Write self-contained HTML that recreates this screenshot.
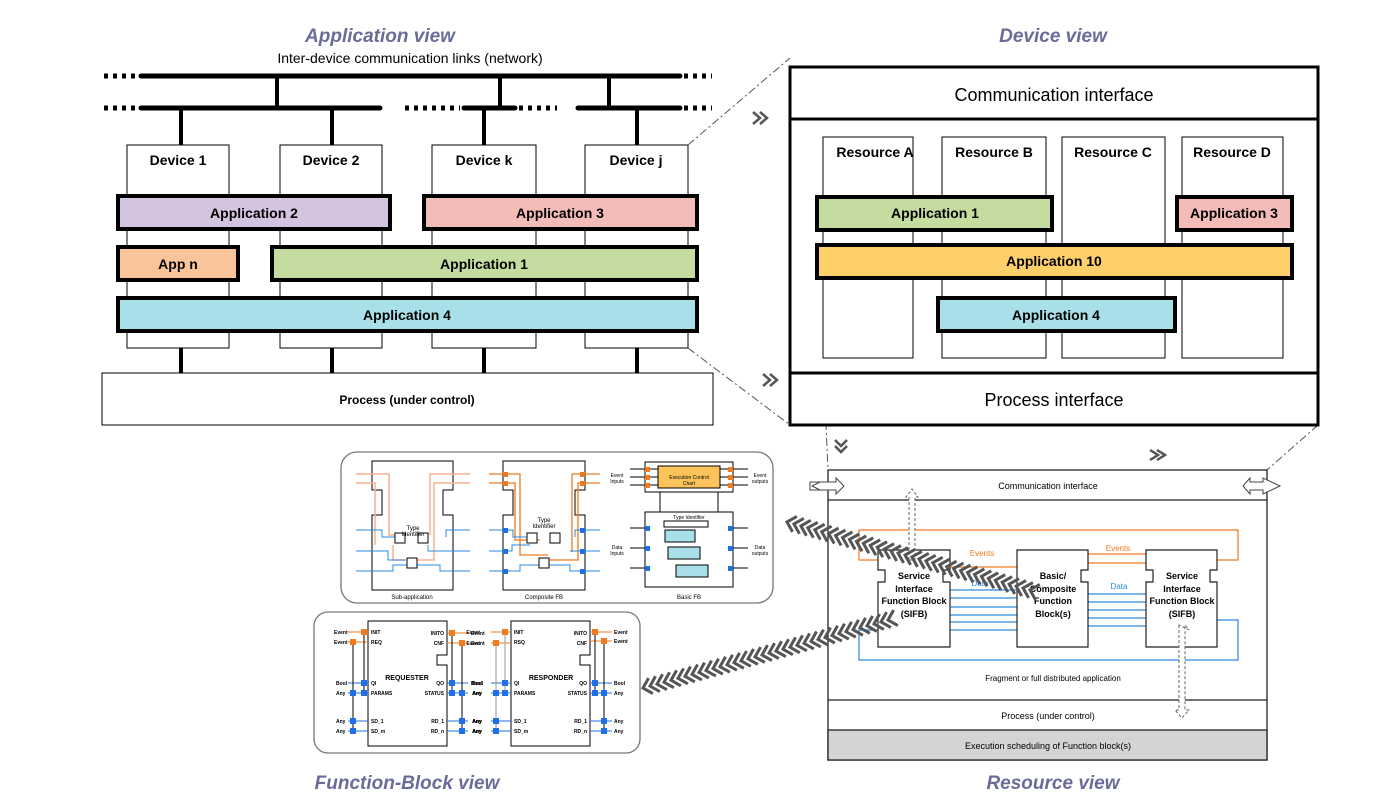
<!DOCTYPE html>
<html><head><meta charset="utf-8">
<style>
html,body{margin:0;padding:0;background:#fff;}
svg{display:block;font-family:"Liberation Sans",sans-serif;}
.t{font-weight:bold;font-style:italic;fill:#6b6b9b;font-size:19px;text-anchor:middle}
.b{font-weight:bold;font-size:14px;text-anchor:middle}
.s{font-size:5px;text-anchor:middle}
</style></head><body>
<svg id="sv" width="1378" height="807" viewBox="0 0 1378 807" xmlns="http://www.w3.org/2000/svg">
<rect width="1378" height="807" fill="#fff"/>
<!-- titles -->
<text class="t" x="380" y="42">Application view</text>
<text class="t" x="1053" y="42">Device view</text>
<text class="t" x="407" y="789">Function-Block view</text>
<text class="t" x="1053" y="789">Resource view</text>
<text x="410" y="63" font-size="14" text-anchor="middle">Inter-device communication links (network)</text>

<!-- network -->
<g stroke="#000" stroke-width="5" stroke-linecap="round">
<line x1="141" y1="76" x2="680" y2="76"/>
<line x1="141" y1="108" x2="380" y2="108"/>
<line x1="464" y1="108" x2="515" y2="108"/>
<line x1="578" y1="108" x2="680" y2="108"/>
</g>
<g stroke="#000" stroke-width="5" stroke-dasharray="4 5">
<line x1="104" y1="76" x2="136" y2="76"/><line x1="684" y1="76" x2="712" y2="76"/>
<line x1="104" y1="108" x2="136" y2="108"/><line x1="405" y1="108" x2="460" y2="108"/>
<line x1="519" y1="108" x2="557" y2="108"/><line x1="684" y1="108" x2="712" y2="108"/>
</g>
<g stroke="#000" stroke-width="4">
<line x1="277" y1="76" x2="277" y2="108"/><line x1="500" y1="76" x2="500" y2="108"/><line x1="609" y1="76" x2="609" y2="108"/>
<line x1="181" y1="108" x2="181" y2="145"/><line x1="332" y1="108" x2="332" y2="145"/><line x1="484" y1="108" x2="484" y2="145"/><line x1="637" y1="108" x2="637" y2="145"/>
<line x1="181" y1="348" x2="181" y2="373"/><line x1="332" y1="348" x2="332" y2="373"/><line x1="484" y1="348" x2="484" y2="373"/><line x1="637" y1="348" x2="637" y2="373"/>
</g>
<g fill="#fff" stroke="#000" stroke-width="1">
<rect x="127" y="145" width="102" height="203"/><rect x="280" y="145" width="102" height="203"/>
<rect x="432" y="145" width="104" height="203"/><rect x="585" y="145" width="103" height="203"/>
<rect x="102" y="373" width="611" height="52"/>
</g>
<text class="b" x="178" y="165">Device 1</text><text class="b" x="331" y="165">Device 2</text>
<text class="b" x="484" y="165">Device k</text><text class="b" x="636" y="165">Device j</text>
<text x="407" y="404" font-size="12" font-weight="bold" text-anchor="middle">Process (under control)</text>
<g stroke="#000" stroke-width="4">
<rect x="118" y="196" width="272" height="33" fill="#d5c4e0"/>
<rect x="424" y="196" width="273" height="33" fill="#f4bcb8"/>
<rect x="118" y="247" width="120" height="33" fill="#f9c49a"/>
<rect x="272" y="247" width="425" height="33" fill="#c5dca0"/>
<rect x="118" y="298" width="579" height="33" fill="#a8dfe9"/>
</g>
<text class="b" x="254" y="218">Application 2</text><text class="b" x="560" y="218">Application 3</text>
<text class="b" x="178" y="269">App n</text><text class="b" x="484" y="269">Application 1</text>
<text class="b" x="407" y="320">Application 4</text>

<!-- dash-dot connectors -->
<g stroke="#555" stroke-width="1" stroke-dasharray="8 3 2 3" fill="none">
<line x1="688" y1="145" x2="790" y2="58"/>
<line x1="688" y1="348" x2="790" y2="425"/>
<line x1="823" y1="358" x2="828" y2="470"/>
<line x1="1318" y1="425" x2="1267" y2="470"/>
</g>
<g fill="none" stroke="#555" stroke-width="2.5">
<path d="M753 110 l7 6 -7 6 M760 110 l7 6 -7 6" transform="translate(0,2)"/>
<path d="M763 374 l7 6 -7 6 M770 374 l7 6 -7 6"/>
<path d="M835 440 l6 6 6 -6 M835 446 l6 6 6 -6"/>
<path d="M1150 450 l8 5 -8 5 M1157 450 l8 5 -8 5"/>
</g>

<!-- device view -->
<g fill="#fff" stroke="#000">
<rect x="790" y="67" width="528" height="358" stroke-width="3"/>
<line x1="790" y1="119" x2="1318" y2="119" stroke-width="3"/>
<line x1="790" y1="373" x2="1318" y2="373" stroke-width="3"/>
<rect x="823" y="137" width="90" height="221"/><rect x="942" y="137" width="104" height="221"/>
<rect x="1062" y="137" width="103" height="221"/><rect x="1182" y="137" width="101" height="221"/>
</g>
<text x="1054" y="101" font-size="18" text-anchor="middle">Communication interface</text>
<text x="1054" y="406" font-size="18" text-anchor="middle">Process interface</text>
<text class="b" x="875" y="157">Resource A</text><text class="b" x="994" y="157">Resource B</text>
<text class="b" x="1113" y="157">Resource C</text><text class="b" x="1232" y="157">Resource D</text>
<g stroke="#000" stroke-width="4">
<rect x="817" y="197" width="235" height="33" fill="#c5dca0"/>
<rect x="1177" y="197" width="115" height="33" fill="#f4bcb8"/>
<rect x="817" y="245" width="475" height="33" fill="#fdd06a"/>
<rect x="938" y="298" width="237" height="33" fill="#a8dfe9"/>
</g>
<text class="b" x="935" y="218">Application 1</text><text class="b" x="1234" y="218">Application 3</text>
<text class="b" x="1054" y="266">Application 10</text><text class="b" x="1056" y="320">Application 4</text>

<!-- resource view -->
<g fill="#fff" stroke="#222" stroke-width="1.3">
<rect x="828" y="470" width="439" height="290"/>
<line x1="828" y1="500" x2="1267" y2="500"/>
<line x1="828" y1="700" x2="1267" y2="700"/>
<rect x="828" y="730" width="439" height="30" fill="#d4d4d4"/>
</g>
<text x="1048" y="489" font-size="9" text-anchor="middle">Communication interface</text>
<text x="1053" y="681" font-size="8" text-anchor="middle">Fragment or full distributed application</text>
<text x="1048" y="719" font-size="9" text-anchor="middle">Process (under control)</text>
<text x="1048" y="749" font-size="9" text-anchor="middle">Execution scheduling of Function block(s)</text>
<g fill="none" stroke="#f07a1e" stroke-width="1.2">
<path d="M878 560 H859 V530 H1238 V560 H1217"/>
<line x1="950" y1="567" x2="1017" y2="567"/>
<line x1="1088" y1="554" x2="1146" y2="554"/><line x1="1088" y1="563" x2="1146" y2="563"/>
</g>
<text x="982" y="556" font-size="8" fill="#f07a1e" text-anchor="middle">Events</text>
<text x="1118" y="551" font-size="8" fill="#f07a1e" text-anchor="middle">Events</text>
<g fill="none" stroke="#2a8ae0" stroke-width="1.2">
<line x1="950" y1="590" x2="1017" y2="590"/><line x1="950" y1="598" x2="1017" y2="598"/>
<line x1="950" y1="607" x2="1017" y2="607"/><line x1="950" y1="615" x2="1017" y2="615"/>
<line x1="950" y1="622" x2="1017" y2="622"/><line x1="950" y1="630" x2="1017" y2="630"/>
<line x1="1088" y1="594" x2="1146" y2="594"/><line x1="1088" y1="602" x2="1146" y2="602"/>
<line x1="1088" y1="610" x2="1146" y2="610"/><line x1="1088" y1="618" x2="1146" y2="618"/>
<line x1="1088" y1="626" x2="1146" y2="626"/>
<path d="M878 630 H859 V660 H1238 V620 H1217"/>
</g>
<text x="980" y="586" font-size="8" fill="#2a8ae0" text-anchor="middle">Data</text>
<text x="1119" y="589" font-size="8" fill="#2a8ae0" text-anchor="middle">Data</text>
<g fill="#fff" stroke="#222" stroke-width="1.2">
<path d="M878 550 H950 V570 H943 V582 H950 V647 H878 V582 H885 V570 H878 Z"/>
<path d="M1017 550 H1088 V570 H1081 V582 H1088 V647 H1017 Z"/>
<path d="M1146 550 H1217 V570 H1210 V582 H1217 V647 H1146 V582 H1153 V570 H1146 Z"/>
</g>
<g font-size="9" font-weight="bold" text-anchor="middle">
<text x="914" y="579">Service</text><text x="914" y="592">Interface</text><text x="914" y="604">Function Block</text><text x="914" y="617">(SIFB)</text>
<text x="1053" y="579">Basic/</text><text x="1053" y="592">Composite</text><text x="1053" y="604">Function</text><text x="1053" y="617">Block(s)</text>
<text x="1182" y="579">Service</text><text x="1182" y="592">Interface</text><text x="1182" y="604">Function Block</text><text x="1182" y="617">(SIFB)</text>
</g>
<g fill="#fff" stroke="#666" stroke-width="1" stroke-dasharray="3 2">
<path d="M909 560 V497 H906 L912 489 L918 497 H915 V560 Z"/>
<path d="M1179 625 V710 H1175 L1182 718 L1189 710 H1185 V625 L1189 630 Z"/>
</g>
<g fill="#fff" stroke="#444" stroke-width="1">
<path d="M810 482 H836 V478 L844 486 L836 494 V490 H810 Z"/>
<path d="M1263 482 H1250 V478 L1243 486 L1250 494 V490 H1263 V494 L1280 486 L1263 478 Z"/>
<path d="M820 482 L812 486 L820 490"/>
</g>

<!-- FB view top -->
<rect x="341" y="452" width="432" height="151" rx="16" fill="#fff" stroke="#777" stroke-width="1.3"/>
<g id="fbtop" fill="none" stroke-width="1">
<!-- sub-application -->
<path d="M372 461 H453 V490 H443 V515 H453 V590 H372 V515 H382 V490 H372 Z" fill="#fff" stroke="#000"/>
<path d="M356 474 H380 H389 V535 H402 M356 483 H375 V545 M470 474 H430 V535 M470 483 H434 V560 H393 V545" stroke="#f8b090" stroke-width="1.5"/>
<path d="M356 530 H382 V537 H400 M356 551 H388 V560 H405 M356 571 H393 V565 H440 V571 H470 M470 530 H446 V537 M470 551 H428 V545" stroke="#2a8ae0"/>
<rect x="395" y="533" width="10" height="10" fill="#fff" stroke="#000"/><rect x="418" y="533" width="10" height="10" fill="#fff" stroke="#000"/><rect x="407" y="558" width="10" height="10" fill="#fff" stroke="#000"/>
<!-- composite FB -->
<path d="M503 461 H585 V490 H575 V515 H585 V590 H503 V515 H513 V490 H503 Z" fill="#fff" stroke="#000"/>
<path d="M489 474 H520 V555 H548 M489 483 H515 V540 H540 M600 474 H572 V552 M600 483 H578 V560 H548" stroke="#f07a1e" stroke-width="1.3"/>
<path d="M489 530 H513 V537 H530 M489 551 H512 V545 H530 M489 571 H520 V565 H570 V571 H600 M600 530 H575 V537 M600 551 H570" stroke="#2a8ae0"/>
<rect x="527" y="533" width="10" height="10" fill="#fff" stroke="#000"/><rect x="550" y="533" width="10" height="10" fill="#fff" stroke="#000"/><rect x="539" y="558" width="10" height="10" fill="#fff" stroke="#000"/>
<g fill="#f07a1e"><rect x="503" y="472" width="5" height="5"/><rect x="503" y="481" width="5" height="5"/><rect x="580" y="472" width="5" height="5"/><rect x="580" y="481" width="5" height="5"/></g>
<g fill="#1f6fe8"><rect x="503" y="528" width="5" height="5"/><rect x="503" y="549" width="5" height="5"/><rect x="503" y="569" width="5" height="5"/><rect x="580" y="528" width="5" height="5"/><rect x="580" y="549" width="5" height="5"/><rect x="580" y="569" width="5" height="5"/></g>
<!-- basic FB -->
<rect x="645" y="462" width="88" height="30" fill="#fff" stroke="#000"/>
<rect x="658" y="466" width="62" height="22" fill="#fbc35a" stroke="#000"/>
<path d="M660 492 V512 M718 492 V512" stroke="#000"/>
<rect x="645" y="512" width="88" height="75" fill="#fff" stroke="#000"/>
<path d="M630 469 H658 M630 477 H658 M630 485 H658 M720 469 H748 M720 477 H748 M720 485 H748 M630 528 H650 M630 548 H650 M630 568 H650 M728 528 H748 M728 548 H748 M728 568 H748" stroke="#000"/>
<rect x="664" y="521" width="44" height="6" fill="#fff" stroke="#000"/>
<rect x="665" y="530" width="30" height="12" fill="#a8dfe9" stroke="#000"/>
<rect x="668" y="547" width="32" height="12" fill="#a8dfe9" stroke="#000"/>
<rect x="676" y="565" width="32" height="12" fill="#a8dfe9" stroke="#000"/>
<g fill="#f07a1e"><rect x="645" y="467" width="5" height="5"/><rect x="645" y="475" width="5" height="5"/><rect x="645" y="483" width="5" height="5"/><rect x="728" y="467" width="5" height="5"/><rect x="728" y="475" width="5" height="5"/><rect x="728" y="483" width="5" height="5"/></g>
<g fill="#1f6fe8"><rect x="645" y="526" width="5" height="5"/><rect x="645" y="546" width="5" height="5"/><rect x="645" y="566" width="5" height="5"/><rect x="728" y="526" width="5" height="5"/><rect x="728" y="546" width="5" height="5"/><rect x="728" y="566" width="5" height="5"/></g>
</g>
<g class="s" font-size="5">
<text x="413" y="530" font-size="6" text-anchor="middle">Type</text><text x="413" y="536" font-size="6" text-anchor="middle">Identifier</text>
<text x="544" y="522" font-size="6" text-anchor="middle">Type</text><text x="544" y="528" font-size="6" text-anchor="middle">Identifier</text>
<text x="689" y="479" font-size="5" text-anchor="middle">Execution Control</text><text x="689" y="485" font-size="5" text-anchor="middle">Chart</text>
<text x="689" y="519" font-size="5" text-anchor="middle">Type Identifier</text>
<text x="412" y="599" font-size="6" text-anchor="middle">Sub-application</text>
<text x="544" y="599" font-size="6" text-anchor="middle">Composite FB</text>
<text x="689" y="599" font-size="6" text-anchor="middle">Basic FB</text>
<text x="617" y="477" font-size="5" text-anchor="middle">Event</text><text x="617" y="483" font-size="5" text-anchor="middle">Inputs</text>
<text x="760" y="477" font-size="5" text-anchor="middle">Event</text><text x="760" y="483" font-size="5" text-anchor="middle">outputs</text>
<text x="617" y="549" font-size="5" text-anchor="middle">Data</text><text x="617" y="555" font-size="5" text-anchor="middle">Inputs</text>
<text x="760" y="549" font-size="5" text-anchor="middle">Data</text><text x="760" y="555" font-size="5" text-anchor="middle">outputs</text>
</g>

<!-- FB view bottom -->
<rect x="314" y="612" width="326" height="141" rx="14" fill="#fff" stroke="#777" stroke-width="1.3"/>
<g fill="none" stroke-width="1">
<path d="M368 621 H447 V655 H437 V665 H447 V746 H368 Z" fill="#fff" stroke="#000"/>
<path d="M511 621 H590 V655 H580 V665 H590 V746 H511 Z" fill="#fff" stroke="#000"/>
<path d="M348 632 H368 M348 642 H368 M447 633 H468 M447 643 H468 M491 632 H511 M491 643 H511 M590 632 H612 M590 641 H612" stroke="#f07a1e"/>
<path d="M348 683 H368 M348 693 H368 M348 721 H368 M348 731 H368 M447 683 H468 M447 693 H468 M447 721 H468 M447 731 H468 M491 683 H511 M491 693 H511 M491 721 H511 M491 731 H511 M590 683 H612 M590 693 H612 M590 721 H612 M590 731 H612" stroke="#1f6fe8"/>
<path d="M364 632 V693 M353 642 V731 M452 633 V693 M462 643 V731 M595 632 V693 M604 641 V731" stroke="#000"/>
<path d="M505 632 V693 M496 643 V731" stroke="#999"/>
</g>
<g fill="#f07a1e"><rect x="361" y="629" width="6" height="6"/><rect x="350" y="639" width="6" height="6"/><rect x="449" y="630" width="6" height="6"/><rect x="459" y="640" width="6" height="6"/><rect x="502" y="629" width="6" height="6"/><rect x="493" y="640" width="6" height="6"/><rect x="592" y="629" width="6" height="6"/><rect x="601" y="638" width="6" height="6"/></g>
<g fill="#1f6fe8"><rect x="361" y="680" width="6" height="6"/><rect x="361" y="690" width="6" height="6"/><rect x="350" y="690" width="6" height="6"/><rect x="350" y="718" width="6" height="6"/><rect x="350" y="728" width="6" height="6"/>
<rect x="449" y="680" width="6" height="6"/><rect x="449" y="690" width="6" height="6"/><rect x="459" y="690" width="6" height="6"/><rect x="459" y="718" width="6" height="6"/><rect x="459" y="728" width="6" height="6"/>
<rect x="502" y="680" width="6" height="6"/><rect x="502" y="690" width="6" height="6"/><rect x="493" y="690" width="6" height="6"/><rect x="493" y="718" width="6" height="6"/><rect x="493" y="728" width="6" height="6"/>
<rect x="592" y="680" width="6" height="6"/><rect x="592" y="690" width="6" height="6"/><rect x="601" y="690" width="6" height="6"/><rect x="601" y="718" width="6" height="6"/><rect x="601" y="728" width="6" height="6"/></g>
<g font-size="5" font-weight="bold">
<text x="407" y="680" font-size="7" text-anchor="middle">REQUESTER</text>
<text x="551" y="680" font-size="7" text-anchor="middle">RESPONDER</text>
<text x="371" y="634">INIT</text><text x="371" y="644">REQ</text><text x="371" y="685">QI</text><text x="371" y="695">PARAMS</text><text x="371" y="723">SD_1</text><text x="371" y="733">SD_m</text>
<text x="444" y="635" text-anchor="end">INITO</text><text x="444" y="645" text-anchor="end">CNF</text><text x="444" y="685" text-anchor="end">QO</text><text x="444" y="695" text-anchor="end">STATUS</text><text x="444" y="723" text-anchor="end">RD_1</text><text x="444" y="733" text-anchor="end">RD_n</text>
<text x="514" y="634">INIT</text><text x="514" y="644">RSQ</text><text x="514" y="685">QI</text><text x="514" y="695">PARAMS</text><text x="514" y="723">SD_1</text><text x="514" y="733">SD_m</text>
<text x="587" y="635" text-anchor="end">INITO</text><text x="587" y="645" text-anchor="end">CNF</text><text x="587" y="685" text-anchor="end">QO</text><text x="587" y="695" text-anchor="end">STATUS</text><text x="587" y="723" text-anchor="end">RD_1</text><text x="587" y="733" text-anchor="end">RD_n</text>
<text x="334" y="634">Event</text><text x="334" y="644">Event</text><text x="336" y="685">Bool</text><text x="336" y="695">Any</text><text x="336" y="723">Any</text><text x="336" y="733">Any</text>
<text x="471" y="635">Event</text><text x="471" y="645">Event</text><text x="472" y="685">Bool</text><text x="472" y="695">Any</text><text x="472" y="723">Any</text><text x="472" y="733">Any</text>
<text x="480" y="634" text-anchor="end">Event</text><text x="480" y="645" text-anchor="end">Event</text><text x="482" y="685" text-anchor="end">Bool</text><text x="482" y="695" text-anchor="end">Any</text><text x="482" y="723" text-anchor="end">Any</text><text x="482" y="733" text-anchor="end">Any</text>
<text x="614" y="634">Event</text><text x="614" y="643">Event</text><text x="614" y="685">Bool</text><text x="614" y="695">Any</text><text x="614" y="723">Any</text><text x="614" y="733">Any</text>
</g>
<g id="chev" fill="none" stroke="#555" stroke-width="3"></g>
</svg>
<script>
(function(){
var g=document.getElementById('chev');
function chain(x1,y1,x2,y2,n){
 var dx=x2-x1,dy=y2-y1,L=Math.hypot(dx,dy),ux=dx/L,uy=dy/L,px=-uy,py=ux;
 for(var i=0;i<n;i++){var t=i/(n-1),cx=x1+dx*t,cy=y1+dy*t,s=8;
  var p=document.createElementNS('http://www.w3.org/2000/svg','path');
  var ax=cx+ux*s+px*s,ay=cy+uy*s+py*s,bx=cx+ux*s-px*s,by=cy+uy*s-py*s;
  p.setAttribute('d','M'+ax+' '+ay+' L'+cx+' '+cy+' L'+bx+' '+by);g.appendChild(p);}
}
chain(787,522,1030,590,36);
chain(643,688,888,620,36);
})();
</script>
</body></html>
